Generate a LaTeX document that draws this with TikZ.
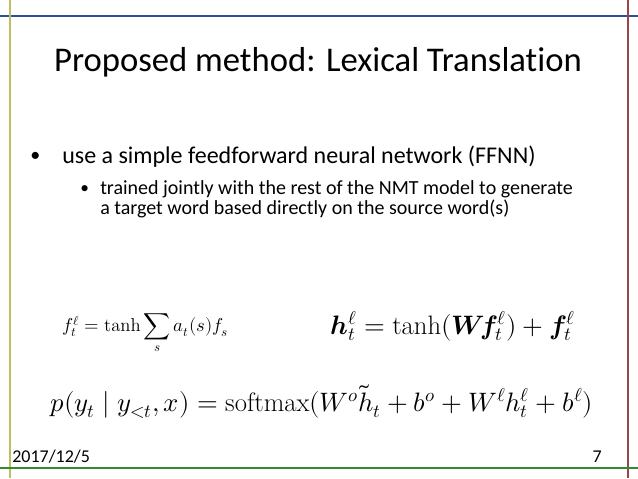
\documentclass[tikz,border=0pt]{standalone}
\usepackage{amsmath}
\usepackage{fontspec}
\usepackage{unicode-math}
\setmainfont{Carlito}[Ligatures=NoCommon]
\setmathfont{Latin Modern Math}
\setmathrm{Latin Modern Roman}
\begin{document}
\begin{tikzpicture}[x=0.75pt,y=-0.75pt,
  txt/.style={inner sep=0pt,anchor=west},
  frame/.style={line width=1.3pt}]
\useasboundingbox (0,0) rectangle (638,478);
\fill[white] (0,0) rectangle (638,478);
\draw[frame,color={rgb,255:red,40;green,80;blue,160}] (0,16) -- (638,16);
\draw[frame,color={rgb,255:red,190;green,190;blue,100}] (10,0) -- (10,478);
\draw[frame,color={rgb,255:red,150;green,70;blue,70}] (628,0) -- (628,478);
\draw[frame,color={rgb,255:red,50;green,140;blue,50}] (0,468) -- (638,468);
\node[inner sep=0pt] (title) at (318,62) {\fontsize{26}{32}\selectfont Proposed method: Lexical Translation};
\node[txt] (b1) at (30,157) {\fontsize{15}{22}\selectfont •};
\node[txt] (t1) at (62,157) {\fontsize{18}{22}\selectfont use a simple feedforward neural network (FFNN)};
\node[txt] (b2) at (80,190) {\fontsize{13}{18}\selectfont •};
\node[txt,align=left,anchor=north west] (t2) at (100,180) {\fontsize{15}{18}\selectfont trained jointly with the rest of the NMT model to generate\\[1pt]\fontsize{15}{18}\selectfont a target word based directly on the source word(s)};
\node[txt] (f1) at (62,334) {\fontsize{14}{18}\selectfont $\displaystyle f_t^{\ell}=\tanh\sum_s a_t(s) f_s$};
\node[txt] (f2) at (330,326) {\fontsize{20}{24}\selectfont $\symbfit{h}_t^{\ell}=\mathrm{tanh}(\symbfit{W}\!\symbfit{f}_t^{\ell})+\symbfit{f}_t^{\ell}$};
\node[txt] (f3) at (50,402) {\fontsize{20}{24}\selectfont $p(y_t\mid y_{<t},x)=\mathrm{softmax}(W^o\tilde{h}_t+b^o+W^{\ell}h_t^{\ell}+b^{\ell})$};
\node[txt] (date) at (12,457) {\fontsize{13.5}{16}\selectfont 2017/12/5};
\node[txt,anchor=east] (pg) at (602,457) {\fontsize{13.5}{16}\selectfont 7};
\end{tikzpicture}
\end{document}
